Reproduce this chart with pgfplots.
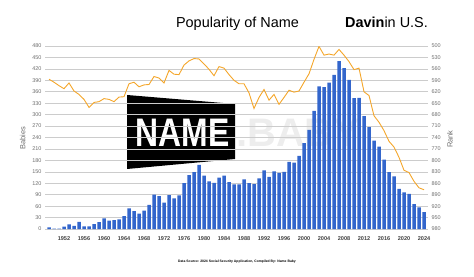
\documentclass[border=0pt]{standalone}
\usepackage{fontspec}
\setmainfont{Liberation Sans}
\usepackage{pgfplots}
\pgfplotsset{compat=1.18}
\definecolor{barblue}{HTML}{3366CC}
\definecolor{lineor}{HTML}{F4A62A}
\definecolor{gridg}{HTML}{CCCCCC}
\definecolor{tickg}{HTML}{6E6E6E}

\pgfplotstableread{
year babies
1949 4
1950 1
1951 1
1952 6
1953 12
1954 8
1955 19
1956 7
1957 7
1958 13
1959 18
1960 28
1961 22
1962 23
1963 25
1964 34
1965 54
1966 47
1967 40
1968 48
1969 63
1970 90
1971 86
1972 69
1973 89
1974 80
1975 88
1976 120
1977 141
1978 149
1979 168
1980 140
1981 125
1982 121
1983 135
1984 140
1985 123
1986 117
1987 117
1988 130
1989 120
1990 118
1991 133
1992 154
1993 137
1994 151
1995 147
1996 150
1997 176
1998 174
1999 192
2000 225
2001 260
2002 310
2003 374
2004 372
2005 384
2006 404
2007 440
2008 422
2009 391
2010 343
2011 344
2012 296
2013 267
2014 232
2015 216
2016 182
2017 149
2018 138
2019 105
2020 96
2021 92
2022 65
2023 57
2024 44
}\babiestable

\pgfplotstableread{
year rank
1949 587
1950 595
1951 604
1952 612
1953 597
1954 618
1955 627
1956 640
1957 661
1958 648
1959 646
1960 638
1961 640
1962 646
1963 634
1964 633
1965 599
1966 595
1967 607
1968 602
1969 601
1970 580
1971 584
1972 597
1973 564
1974 574
1975 575
1976 550
1977 539
1978 533
1979 534
1980 547
1981 561
1982 578
1983 554
1984 558
1985 575
1986 590
1987 599
1988 599
1989 623
1990 664
1991 635
1992 614
1993 642
1994 627
1995 653
1996 635
1997 616
1998 621
1999 618
2000 595
2001 573
2002 535
2003 501
2004 524
2005 521
2006 524
2007 509
2008 524
2009 541
2010 562
2011 558
2012 620
2013 630
2014 683
2015 700
2016 722
2017 750
2018 765
2019 792
2020 826
2021 832
2022 855
2023 872
2024 877
}\ranktable

\begin{document}
\begin{tikzpicture}
\useasboundingbox (-45bp,-48bp) rectangle (429bp,229bp);
% logo behind the chart
\fill[black] (82bp,134bp) -- (190bp,125bp) -- (190bp,70bp) -- (82bp,60bp) -- cycle;
\node[inner sep=0pt, text=white, font=\fontsize{40}{40}\selectfont\bfseries, xscale=0.8] at (137.5bp,96.5bp) {NAME};
\node[inner sep=0pt, anchor=west, text=black!7, font=\fontsize{40}{40}\selectfont\bfseries] at (191bp,96.5bp) {.BABY};

\begin{axis}[
  at={(0,0)}, anchor=south west,
  scale only axis, width=383bp, height=183bp,
  xmin=1948.2, xmax=2024.8, ymin=0, ymax=480,
  enlargelimits=false,
  axis line style={draw=none},
  major tick length=0pt,
  ytick={0,30,...,480},
  xtick={1952,1956,...,2024},
  ymajorgrids, grid style={gridg, line width=0.6bp},
  /pgf/number format/assume math mode=true,
  /pgf/number format/set thousands separator={},
  yticklabel style={font=\fontsize{5.5}{6}\selectfont, text=tickg},
  xticklabel style={font=\fontsize{5.6}{6}\selectfont\bfseries, text=black!75, inner sep=0pt, yshift=-7.5bp},
  ybar, bar width=3.5bp,
]
\addplot[fill=barblue, draw=none] table[x=year, y=babies] {\babiestable};
\end{axis}

\begin{axis}[
  at={(0,0)}, anchor=south west,
  scale only axis, width=383bp, height=183bp,
  xmin=1948.2, xmax=2024.8, ymin=500, ymax=980,
  y dir=reverse,
  enlargelimits=false,
  axis line style={draw=none},
  major tick length=0pt,
  xtick=\empty,
  ytick={500,530,...,980},
  yticklabel pos=right,
  /pgf/number format/assume math mode=true,
  /pgf/number format/set thousands separator={},
  yticklabel style={font=\fontsize{5.5}{6}\selectfont, text=tickg},
]
\addplot[lineor, line width=0.9bp, no markers] table[x=year, y=rank] {\ranktable};
\end{axis}

\node[rotate=90, text=tickg, font=\fontsize{7.5}{8}\selectfont] at (-22.3bp,91bp) {Babies};
\node[rotate=90, text=tickg, font=\fontsize{7.5}{8}\selectfont] at (405bp,90bp) {Rank};
\node[anchor=base, font=\fontsize{14.5}{15}\selectfont] at (192.5bp,201bp) {Popularity of Name};
\node[anchor=base west, inner sep=0pt, font=\fontsize{14.5}{15}\selectfont] at (300bp,201bp) {\textbf{Davin}in U.S.};
\node[font=\fontsize{3.4}{4}\selectfont\bfseries] at (192bp,-32.5bp) {Data Source: 2024 Social Security Application, Compiled By: Name Baby};
\end{tikzpicture}
\end{document}
